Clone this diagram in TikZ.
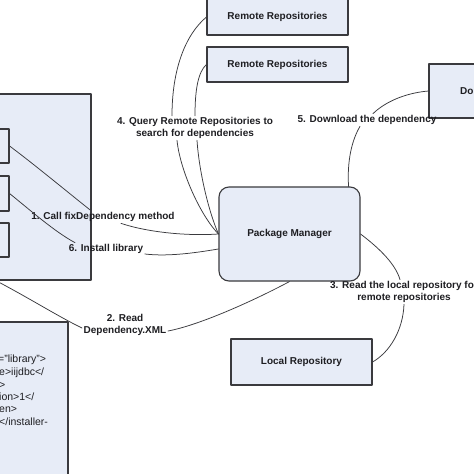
\documentclass[tikz,border=0pt]{standalone}
\usepackage{fontspec}
\setmainfont{Liberation Sans}
\usepackage{xcolor}
\usepackage{tikz}
\definecolor{boxfill}{RGB}{231,236,247}
\definecolor{boxline}{RGB}{58,58,62}
\definecolor{inktext}{RGB}{30,30,34}

\begin{document}
\begin{tikzpicture}[x=1pt, y=-1pt, line cap=round, line join=round,
  box/.style={draw=boxline, line width=1.1pt, fill=boxfill, inner sep=0pt,
    text=inktext, font=\bfseries\fontsize{10}{12}\selectfont},
  lbl/.style={inner sep=1.5pt, align=center, text=inktext,
    font=\bfseries\fontsize{10}{12}\selectfont},
  xmlline/.style={anchor=west, inner sep=0pt, text=inktext,
    font=\fontsize{10.5}{12}\selectfont},
  link/.style={draw=boxline, line width=0.75pt}]

\useasboundingbox (0,0) rectangle (474,474);
\clip (0,0) rectangle (474,474);
\fill[white] (0,0) rectangle (474,474);


\node[box, minimum width=151pt, minimum height=186pt] (app) at (15.5,187) {};
\node[box, minimum width=50pt, minimum height=34pt] (sb1) at (-16,146) {};
\node[box, minimum width=50pt, minimum height=35pt] (sb2) at (-16,193.5) {};
\node[box, minimum width=50pt, minimum height=34pt] (sb3) at (-16,240) {};


\node[box, minimum width=141pt, minimum height=36pt] (rr1) at (277.5,17) {Remote Repositories};
\node[box, minimum width=141pt, minimum height=35pt] (rr2) at (277.5,64.5) {Remote Repositories};
\node[box, minimum width=101pt, minimum height=54pt] (dl) at (479.5,91) {};
\node[lbl, anchor=west, inner sep=0pt] (dlname) at (460,91) {Do};

\node[box, rounded corners=10pt, minimum width=141pt, minimum height=94pt] (pm) at (289.5,234) {Package Manager};
\node[box, minimum width=141pt, minimum height=46pt] (lr) at (301.5,362) {Local Repository};


\node[box, minimum width=120pt, minimum height=180pt] (xml) at (8,412) {};
\node[xmlline] (x1) at (-2,360) {="library">};
\node[xmlline] (x2) at (-1,372.5) {e>iijdbc</};
\node[xmlline] (x3) at (-1,385) {>};
\node[xmlline] (x4) at (-1,397) {ion>1</};
\node[xmlline] (x5) at (-1,409) {en>};
\node[xmlline] (x6) at (-1,421.5) {</installer-};


\node[lbl] (call) at (103,217) {1. Call fixDependency method};
\node[lbl] (inst) at (106,249) {6. Install library};
\node[lbl] (read) at (125,325) {2. Read\\Dependency.XML};
\node[lbl] (query) at (195,128) {4. Query Remote Repositories to\\search for dependencies};
\node[lbl] (down) at (367,120) {5. Download the dependency};
\node[lbl] (scan) at (404,292) {3. Read the local repository for\\remote repositories};

\coordinate (src2) at (-25,270);


\draw[link] (sb1.east) .. controls (35,165) and (65,190) .. ([xshift=-12pt]call.north);
\draw[link] ([xshift=18pt]call.south) .. controls (150,233) and (190,236) .. (pm.west);

\draw[link] (sb2.east) .. controls (30,210) and (55,232) .. ([xshift=-31pt]inst.north);
\draw[link] ([yshift=-5pt]inst.east) .. controls (170,257) and (200,252) .. ([yshift=-15pt]pm.west);

\draw[link] (src2) .. controls (20,292) and (55,315) .. ([yshift=-3pt]read.west);
\draw[link] ([yshift=-6pt]read.east) .. controls (200,325) and (255,300) .. (pm.south);

\draw[link] (rr1.west) .. controls (185,35) and (172,70) .. ([xshift=-23pt]query.north);
\draw[link] (rr2.west) .. controls (198,72) and (195,90) .. (query.north);
\draw[link] ([xshift=-18pt]query.south) .. controls (180,170) and (200,215) .. (pm.west);
\draw[link] ([xshift=2pt]query.south) .. controls (199,170) and (208,210) .. (pm.west);

\draw[link] ([xshift=-12pt]pm.north east) .. controls (347,160) and (352,140) .. ([xshift=-7pt]down.south);
\draw[link] ([xshift=6pt]down.north) .. controls (385,102) and (405,93) .. (dl.west);

\draw[link] (pm.east) .. controls (375,245) and (395,262) .. ([xshift=-4pt]scan.north);
\draw[link] (scan.south) .. controls (403,330) and (390,352) .. (lr.east);

\end{tikzpicture}
\end{document}
